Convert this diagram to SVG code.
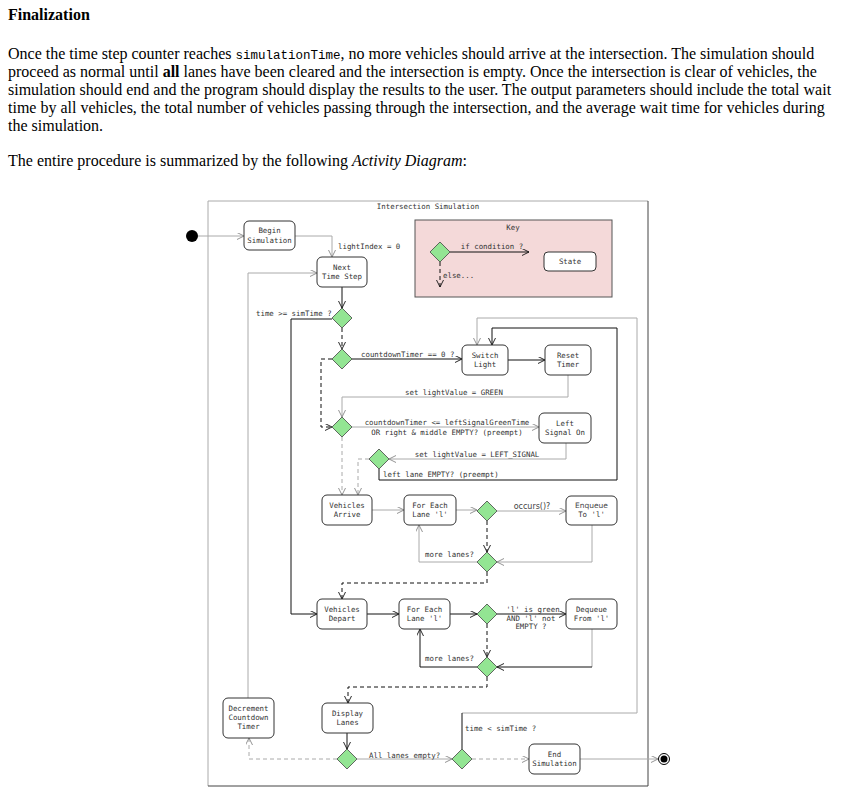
<svg xmlns="http://www.w3.org/2000/svg" width="848" height="806" viewBox="0 0 848 806">
<style>
.h{font-family:"Liberation Serif",serif;font-size:16px;fill:#000}
.t{font-family:"DejaVu Sans Mono",monospace;font-size:7.4px;fill:#333}
.s{font-family:"DejaVu Sans",sans-serif;font-size:7px;fill:#444}
.m{text-anchor:middle}
.box{fill:#fff;stroke:#333;stroke-width:1}
.dia{fill:#93e593;stroke:#444;stroke-width:0.8}
.k{fill:none;stroke:#111;stroke-width:1}
.g{fill:none;stroke:#aaa;stroke-width:1}
.kd{fill:none;stroke:#111;stroke-width:1;stroke-dasharray:4,3}
.gd{fill:none;stroke:#aaa;stroke-width:1;stroke-dasharray:4,3}
</style>
<defs>
<marker id="ak" markerUnits="userSpaceOnUse" markerWidth="9" markerHeight="9" refX="7" refY="3.5" orient="auto"><path d="M0,0 L7,3.5 L0,7" fill="none" stroke="#111" stroke-width="0.9"/></marker>
<marker id="ag" markerUnits="userSpaceOnUse" markerWidth="9" markerHeight="9" refX="7" refY="3.5" orient="auto"><path d="M0,0 L7,3.5 L0,7" fill="none" stroke="#888" stroke-width="0.9"/></marker>
</defs>
<rect width="848" height="806" fill="#fff"/>
<g id="header">
<text class="h" x="8" y="20" font-weight="bold">Finalization</text>
<text class="h" x="8" y="59">Once the time step counter reaches <tspan font-family="Liberation Mono,monospace" font-size="12.5">simulationTime</tspan>, no more vehicles should arrive at the intersection. The simulation should</text>
<text class="h" x="8" y="77">proceed as normal until <tspan font-weight="bold">all</tspan> lanes have been cleared and the intersection is empty. Once the intersection is clear of vehicles, the</text>
<text class="h" x="8" y="95">simulation should end and the program should display the results to the user. The output parameters should include the total wait</text>
<text class="h" x="8" y="113">time by all vehicles, the total number of vehicles passing through the intersection, and the average wait time for vehicles during</text>
<text class="h" x="8" y="131">the simulation.</text>
<text class="h" x="8" y="166">The entire procedure is summarized by the following <tspan font-style="italic">Activity Diagram</tspan>:</text>
</g>
<g id="frame">
<path d="M208,786 V201 H648" fill="none" stroke="#aaa"/>
<path d="M648,201 V786 H208" fill="none" stroke="#444"/>
<text class="t m" x="428" y="209">Intersection Simulation</text>
</g>
<g id="key">
<rect x="415" y="220" width="197" height="77" fill="#f4d9d9" stroke="#555"/>
<text class="t m" x="513" y="230">Key</text>
<path class="k" d="M450,252 H529" marker-end="url(#ak)"/>
<path class="kd" d="M440,262 V287" marker-end="url(#ak)"/>
<polygon class="dia" points="440,242 450,252 440,262 430,252"/>
<text class="t m" x="492" y="249">if condition ?</text>
<text class="t" x="443" y="278">else...</text>
<rect class="box" x="544" y="252" width="52" height="19" rx="4"/>
<text class="t m" x="570" y="264">State</text>
</g>
<g id="connectors">
<path class="g" d="M198,236 H244" marker-end="url(#ag)"/>
<path class="g" d="M295,236 H332 V257" marker-end="url(#ag)"/>
<text class="t" x="338" y="249">lightIndex = 0</text>
<path class="g" d="M248,698 V273 H317" marker-end="url(#ag)"/>
<path class="k" d="M342,287 V308" marker-end="url(#ak)"/>
<path class="k" d="M332,319 H291 V614 H317" marker-end="url(#ak)"/>
<text class="t" x="256" y="315.5">time &gt;= simTime ?</text>
<path class="kd" d="M342,328 V349" marker-end="url(#ak)"/>
<path class="k" d="M352,359 H462" marker-end="url(#ak)"/>
<text class="t" x="361" y="357">countdownTimer == 0 ?</text>
<path class="kd" d="M332,359 H321 V427 H332" marker-end="url(#ak)"/>
<path class="k" d="M508,360 H545" marker-end="url(#ak)"/>
<path class="g" d="M568,375 V397 H342 V417" marker-end="url(#ag)"/>
<text class="t m" x="454" y="394.5">set lightValue = GREEN</text>
<path class="g" d="M352,427 H539" marker-end="url(#ag)"/>
<text class="t m" x="447" y="424.5">countdownTimer &lt;= leftSignalGreenTime</text>
<text class="t m" x="447" y="434.5">OR right &amp; middle EMPTY? (preempt)</text>
<path class="g" d="M566,443 V459 H389" marker-end="url(#ag)"/>
<text class="t m" x="477" y="456.5">set lightValue = LEFT_SIGNAL</text>
<path class="k" d="M379,469 V480 H617 V328 H492 V345" marker-end="url(#ak)"/>
<text class="t" x="383" y="477">left lane EMPTY? (preempt)</text>
<path class="g" d="M462,713 H637 V318 H477 V345" marker-end="url(#ag)"/>
<path class="k" d="M462,749 V713"/>
<text class="t" x="465" y="731">time &lt; simTime ?</text>
<path class="gd" d="M342,437 V495" marker-end="url(#ag)"/>
<path class="gd" d="M369,459 H358 V495" marker-end="url(#ag)"/>
<path class="g" d="M372,510 H404" marker-end="url(#ag)"/>
<path class="g" d="M456,510 H477" marker-end="url(#ag)"/>
<path class="g" d="M497,511 H566" marker-end="url(#ag)"/>
<text class="s m" x="532" y="508.5" style="font-size:8px">occurs()?</text>
<path class="g" d="M592,525 V562 H497" marker-end="url(#ag)"/>
<path class="kd" d="M487,521 V552" marker-end="url(#ak)"/>
<path class="g" d="M477,562 H419 V525" marker-end="url(#ag)"/>
<text class="t" x="425" y="556.5">more lanes?</text>
<path class="kd" d="M487,572 V583 H342 V599" marker-end="url(#ak)"/>
<path class="k" d="M367,614 H399" marker-end="url(#ak)"/>
<path class="k" d="M450,614 H477" marker-end="url(#ak)"/>
<path class="k" d="M497,614 H566" marker-end="url(#ak)"/>
<text class="t m" x="533" y="611.5">'l' is green</text>
<text class="t m" x="531" y="620.5">AND 'l' not</text>
<text class="t m" x="531" y="628.5">EMPTY ?</text>
<path class="g" d="M592,629 V667"/>
<path class="k" d="M592,667 H497" marker-end="url(#ak)"/>
<path class="kd" d="M487,624 V657" marker-end="url(#ak)"/>
<path class="k" d="M477,667 H420 V629" marker-end="url(#ak)"/>
<text class="t" x="425" y="660.5">more lanes?</text>
<path class="kd" d="M487,677 V687 H348 V703" marker-end="url(#ak)"/>
<path class="k" d="M347,733 V749" marker-end="url(#ak)"/>
<path class="g" d="M357,759 H452" marker-end="url(#ag)"/>
<text class="t" x="369" y="757.5">All lanes empty?</text>
<path class="gd" d="M337,759 H249 V738" marker-end="url(#ag)"/>
<path class="gd" d="M472,759 H529" marker-end="url(#ag)"/>
<path class="g" d="M580,759 H658" marker-end="url(#ag)"/>
</g>
<g id="start"><circle cx="192" cy="236" r="6" fill="#000"/></g>
<g id="end"><circle cx="664" cy="759" r="5.5" fill="#fff" stroke="#000"/><circle cx="664" cy="759" r="3.5" fill="#000"/></g>
<g id="begin"><rect class="box" x="244" y="221" width="51" height="29" rx="5"/><text class="t m" x="269.5" y="233">Begin</text><text class="t m" x="269.5" y="242.5">Simulation</text></g>
<g id="next"><rect class="box" x="317" y="257" width="50" height="30" rx="5"/><text class="t m" x="342" y="269.5">Next</text><text class="t m" x="342" y="279">Time Step</text></g>
<g id="switch"><rect class="box" x="462" y="345" width="46" height="30" rx="5"/><text class="t m" x="485" y="357.5">Switch</text><text class="t m" x="485" y="367">Light</text></g>
<g id="reset"><rect class="box" x="545" y="345" width="46" height="30" rx="5"/><text class="t m" x="568" y="357.5">Reset</text><text class="t m" x="568" y="367">Timer</text></g>
<g id="leftsignal"><rect class="box" x="539" y="413" width="52" height="30" rx="5"/><text class="t m" x="565" y="425.5">Left</text><text class="t m" x="565" y="435">Signal On</text></g>
<g id="arrive"><rect class="box" x="322" y="495" width="50" height="30" rx="5"/><text class="t m" x="347" y="507.5">Vehicles</text><text class="t m" x="347" y="517">Arrive</text></g>
<g id="foreach1"><rect class="box" x="404" y="495" width="52" height="30" rx="5"/><text class="t m" x="430" y="507.5">For Each</text><text class="t m" x="430" y="517">Lane 'l'</text></g>
<g id="enqueue"><rect class="box" x="566" y="496" width="51" height="29" rx="5"/><text class="s m" x="591.5" y="508" style="font-size:7.5px">Enqueue</text><text class="t m" x="591.5" y="517">To 'l'</text></g>
<g id="depart"><rect class="box" x="317" y="599" width="50" height="30" rx="5"/><text class="t m" x="342" y="611.5">Vehicles</text><text class="t m" x="342" y="621">Depart</text></g>
<g id="foreach2"><rect class="box" x="399" y="599" width="51" height="30" rx="5"/><text class="t m" x="424.5" y="611.5">For Each</text><text class="t m" x="424.5" y="621">Lane 'l'</text></g>
<g id="dequeue"><rect class="box" x="566" y="599" width="51" height="30" rx="5"/><text class="t m" x="591.5" y="611.5">Dequeue</text><text class="t m" x="591.5" y="621">From 'l'</text></g>
<g id="display"><rect class="box" x="322" y="703" width="51" height="30" rx="5"/><text class="t m" x="347.5" y="715.5">Display</text><text class="t m" x="347.5" y="725">Lanes</text></g>
<g id="decrement"><rect class="box" x="223" y="698" width="51" height="40" rx="5"/><text class="t m" x="248.5" y="710.5">Decrement</text><text class="t m" x="248.5" y="719.5">Countdown</text><text class="t m" x="248.5" y="728.5">Timer</text></g>
<g id="endsim"><rect class="box" x="529" y="744" width="51" height="30" rx="5"/><text class="t m" x="554.5" y="756.5">End</text><text class="t m" x="554.5" y="766">Simulation</text></g>
<g id="decisions">
<polygon class="dia" points="342,308 352,318 342,328 332,318"/>
<polygon class="dia" points="342,349 352,359 342,369 332,359"/>
<polygon class="dia" points="342,417 352,427 342,437 332,427"/>
<polygon class="dia" points="379,449 389,459 379,469 369,459"/>
<polygon class="dia" points="487,501 497,511 487,521 477,511"/>
<polygon class="dia" points="487,552 497,562 487,572 477,562"/>
<polygon class="dia" points="487,604 497,614 487,624 477,614"/>
<polygon class="dia" points="487,657 497,667 487,677 477,667"/>
<polygon class="dia" points="347,749 357,759 347,769 337,759"/>
<polygon class="dia" points="462,749 472,759 462,769 452,759"/>
</g>
</svg>
